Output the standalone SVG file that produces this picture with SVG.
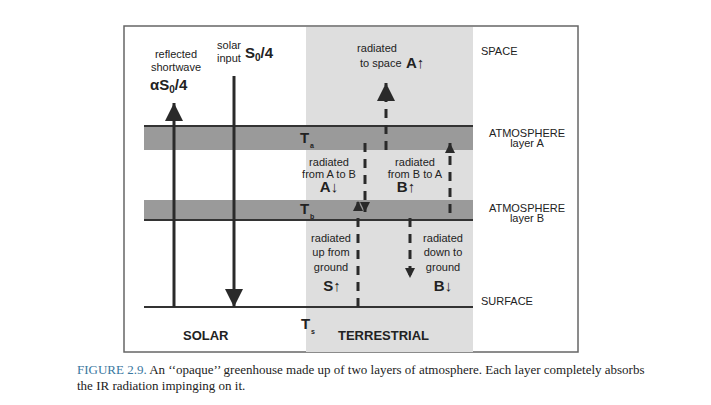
<svg xmlns="http://www.w3.org/2000/svg" width="711" height="405" viewBox="0 0 711 405">
<defs>
<marker id="ah" viewBox="0 0 10 10" refX="10" refY="5" markerWidth="10" markerHeight="10" markerUnits="userSpaceOnUse" orient="auto"><path d="M0,0L10,5L0,10z" fill="#2a2a2a"/></marker>
<marker id="big" viewBox="0 0 10 10" refX="10" refY="5" markerWidth="22" markerHeight="18" markerUnits="userSpaceOnUse" orient="auto"><path d="M0,0L10,5L0,10z" fill="#2a2a2a"/></marker>
</defs>
<style>
text{font-family:"Liberation Sans",Arial,sans-serif;fill:#222}
.s{font-size:11px}.b{font-size:15px;font-weight:bold}.r{font-size:11px}
.d{stroke:#2a2a2a;stroke-width:3;stroke-dasharray:9,7;fill:none}
.cap{font-family:"Liberation Serif","Times New Roman",serif;font-size:13px}
</style>
<rect width="711" height="405" fill="#fff"/>
<g id="frame"><rect x="124" y="26" width="454" height="326" fill="#fff" stroke="#666" stroke-width="1.5"/>
<rect x="306" y="27" width="167" height="325" fill="#dedede"/></g>
<g id="layerA"><rect x="144" y="126" width="329" height="24" fill="#9a9a9a"/><line x1="144" y1="126" x2="473" y2="126" stroke="#333" stroke-width="2"/>
<text x="300" y="143" class="b">T</text><text x="310" y="148" style="font-size:7px;font-weight:bold">a</text>
<text x="527" y="137" class="r" text-anchor="middle">ATMOSPHERE</text><text x="527" y="147" class="r" text-anchor="middle">layer A</text></g>
<g id="layerB"><rect x="144" y="200" width="329" height="20" fill="#9a9a9a"/><line x1="144" y1="220" x2="473" y2="220" stroke="#333" stroke-width="2"/>
<text x="300" y="214" class="b">T</text><text x="310" y="219" style="font-size:7px;font-weight:bold">b</text>
<text x="527" y="212" class="r" text-anchor="middle">ATMOSPHERE</text><text x="527" y="222" class="r" text-anchor="middle">layer B</text></g>
<g id="surface"><line x1="144" y1="307" x2="473" y2="307" stroke="#333" stroke-width="2"/>
<text x="481" y="305" class="r">SURFACE</text>
<text x="301" y="329" class="b">T</text><text x="311" y="334" style="font-size:7px;font-weight:bold">s</text>
<text x="183" y="340" style="font-size:13px;font-weight:bold">SOLAR</text>
<text x="338" y="340" style="font-size:13px;font-weight:bold">TERRESTRIAL</text></g>
<g id="space"><text x="481" y="55" class="r">SPACE</text></g>
<g id="connectors">
<line x1="174" y1="307" x2="174" y2="103" stroke="#2a2a2a" stroke-width="3" marker-end="url(#big)"/>
<line x1="234" y1="76" x2="234" y2="307" stroke="#2a2a2a" stroke-width="3" marker-end="url(#big)"/>
<line x1="386" y1="150" x2="386" y2="83" class="d" marker-end="url(#big)"/>
<line x1="365" y1="143" x2="365" y2="212" class="d" marker-end="url(#ah)"/>
<line x1="450" y1="213" x2="450" y2="143" class="d" marker-end="url(#ah)"/>
<line x1="358" y1="307" x2="358" y2="201" class="d" marker-end="url(#ah)"/>
<line x1="410" y1="218" x2="410" y2="278" class="d" marker-end="url(#ah)"/>
</g>
<g id="labels">
<text x="176" y="58" class="s" text-anchor="middle">reflected</text>
<text x="176" y="71" class="s" text-anchor="middle">shortwave</text>
<text x="150" y="90" class="b">αS<tspan style="font-size:10px" dy="3">0</tspan><tspan dy="-3">/4</tspan></text>
<text x="229" y="49" class="s" text-anchor="middle">solar</text>
<text x="229" y="62" class="s" text-anchor="middle">input</text>
<text x="245" y="58" class="b">S<tspan style="font-size:10px" dy="3">0</tspan><tspan dy="-3">/4</tspan></text>
<text x="377" y="52" class="s" text-anchor="middle">radiated</text>
<text x="360" y="67" class="s">to space</text><text x="406" y="68" class="b">A↑</text>
<text x="329" y="166" class="s" text-anchor="middle">radiated</text>
<text x="329" y="178" class="s" text-anchor="middle">from A to B</text>
<text x="329" y="192" class="b" text-anchor="middle">A↓</text>
<text x="415" y="166" class="s" text-anchor="middle">radiated</text>
<text x="415" y="178" class="s" text-anchor="middle">from B to A</text>
<text x="406" y="192" class="b" text-anchor="middle">B↑</text>
<text x="331" y="242" class="s" text-anchor="middle">radiated</text>
<text x="331" y="256" class="s" text-anchor="middle">up from</text>
<text x="331" y="271" class="s" text-anchor="middle">ground</text>
<text x="332" y="291" class="b" text-anchor="middle">S↑</text>
<text x="443" y="242" class="s" text-anchor="middle">radiated</text>
<text x="443" y="256" class="s" text-anchor="middle">down to</text>
<text x="443" y="271" class="s" text-anchor="middle">ground</text>
<text x="443" y="291" class="b" text-anchor="middle">B↓</text>
</g>
<g id="caption">
<text x="77" y="374" class="cap"><tspan style="fill:#3a78a0">FIGURE 2.9.</tspan>   An ‘‘opaque’’ greenhouse made up of two layers of atmosphere. Each layer completely absorbs</text>
<text x="77" y="390" class="cap">the IR radiation impinging on it.</text>
</g>
</svg>
